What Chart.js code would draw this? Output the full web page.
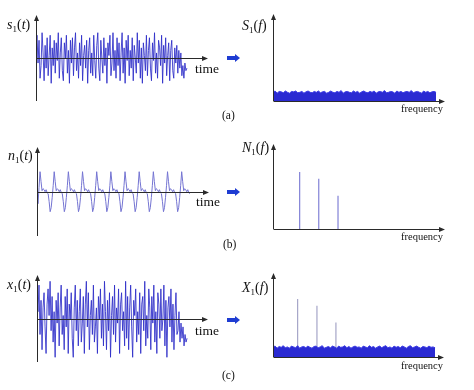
<!DOCTYPE html>
<html>
<head>
<meta charset="utf-8">
<script src="https://cdn.jsdelivr.net/npm/chart.js@4"></script>
<style>
body { margin: 0; background: #fff; }
#fig { position: relative; width: 474px; height: 390px; overflow: hidden; font-family: "Liberation Serif", "Times New Roman", serif; color: #111; }
#fig canvas { position: absolute; }
.lbl { position: absolute; white-space: nowrap; line-height: 1; }
.sym { font-size: 14px; }
.sym sub { font-size: 9px; font-style: normal; vertical-align: baseline; position: relative; top: 3px; }
.time { font-size: 13.5px; }
.freq { font-size: 10.5px; }
.tag { font-size: 11.5px; }
.arrow { position: absolute; left: 227px; width: 9px; height: 4px; background: #1e3cd2; }
.arrow::after { content: ""; position: absolute; left: 8px; top: -2px; border-left: 5px solid #1e3cd2; border-top: 4px solid transparent; border-bottom: 4px solid transparent; }
</style>
</head>
<body>
<div id="fig">
  <canvas id="sT"></canvas><canvas id="sF"></canvas>
  <canvas id="nT"></canvas><canvas id="nF"></canvas>
  <canvas id="xT"></canvas><canvas id="xF"></canvas>

  <div class="lbl sym" style="left:7px;top:18px"><i>s</i><sub>1</sub>(<i>t</i>)</div>
  <div class="lbl time" style="left:195px;top:62px">time</div>
  <div class="lbl tag" style="left:222px;top:110px">(a)</div>
  <div class="lbl sym" style="left:242px;top:19px"><i>S</i><sub>1</sub>(<i>f</i>)</div>
  <div class="lbl freq" style="left:401px;top:104px">frequency</div>

  <div class="lbl sym" style="left:8px;top:149px"><i>n</i><sub>1</sub>(<i>t</i>)</div>
  <div class="lbl time" style="left:196px;top:195px">time</div>
  <div class="lbl tag" style="left:223px;top:239px">(b)</div>
  <div class="lbl sym" style="left:242px;top:141px"><i>N</i><sub>1</sub>(<i>f</i>)</div>
  <div class="lbl freq" style="left:401px;top:232px">frequency</div>

  <div class="lbl sym" style="left:7px;top:278px"><i>x</i><sub>1</sub>(<i>t</i>)</div>
  <div class="lbl time" style="left:195px;top:324px">time</div>
  <div class="lbl tag" style="left:222px;top:370px">(c)</div>
  <div class="lbl sym" style="left:242px;top:281px"><i>X</i><sub>1</sub>(<i>f</i>)</div>
  <div class="lbl freq" style="left:401px;top:361px">frequency</div>

  <div class="arrow" style="top:56px"></div>
  <div class="arrow" style="top:190px"></div>
  <div class="arrow" style="top:318px"></div>
</div>
<script>
// time-domain samples (one per time step)
const s1 = [
  3, 9, -2, 7, -8, -3, 10, 2, -9, 5,
  -4, 8, -7, 1, 9, -10, 4, -3, 7, -6,
  6, -1, 10, -8, 2, 8, -5, -9, 6, 0,
  9, -6, 3, -10, 7, -2, 8, -7, 4, 10,
  -5, 2, -8, 6, -3, 9, -9, 1, 5, -4,
  7, -10, 3, 8, -6, 2, -7, 9, -1, -8,
  5, 10, -4, -9, 7, 0, -6, 8, -3, 4,
  -10, 6, 1, 9, -7, -2, 10, -5, 3, -8,
  8, -3, 6, -9, 2, 10, -6, 4, -10, 7,
  -1, 9, -7, 3, -4, 8, -9, 5, 0, -6,
  10, -2, 7, -8, 4, -10, 6, 1, -5, 9,
  -7, 3, 8, -4, -9, 6, -1, 10, -6, 2,
  -8, 7, 4, -3, 9, -10, 5, -2, 8, -7,
  1, 6, -9, 3, 7, -5, -8, 4, -2, 5,
  -6, 3, -4, 2, -7, -3, -8, -2, -5, -4
];

const n1 = [
  0, -6, 2,
  10, 5, 0.5, 1.5, 1, 0, 1, -0.5, -1, -5, -10, -8, -3, 3,
  10, 5, 0.5, 1.5, 1, 0, 1, -0.5, -1, -5, -10, -8, -3, 3,
  10, 5, 0.5, 1.5, 1, 0, 1, -0.5, -1, -5, -10, -8, -3, 3,
  10, 5, 0.5, 1.5, 1, 0, 1, -0.5, -1, -5, -10, -8, -3, 3,
  10, 5, 0.5, 1.5, 1, 0, 1, -0.5, -1, -5, -10, -8, -3, 3,
  10, 5, 0.5, 1.5, 1, 0, 1, -0.5, -1, -5, -10, -8, -3, 3,
  10, 5, 0.5, 1.5, 1, 0, 1, -0.5, -1, -5, -10, -8, -3, 3,
  10, 5, 0.5, 1.5, 1, 0, 1, -0.5, -1, -5, -10, -8, -3, 3,
  10, 5, 0.5, 1.5, 1, 0, 1, -0.5, -1, -5, -10, -8, -3, 3,
  10, 5, 0.5, 1.5, 1, 0, 1, -0.5, -1, -5, -10, -8, -3, 3,
  10, 5, 0.5, 1.5, 1, 0, 1, -0.5, -1
];

const x1 = [
  6, 2, 9, -4, 5, -8, 3, 7, -2, -9,
  4, 8, 1, 10, -3, 6, -6, 2, -10, 5,
  -1, 7, -7, 3, 9, -4, 1, -8, 6, -2,
  8, -9, 4, 0, 7, -5, -10, 3, 9, -3,
  5, -7, 2, 8, -6, -1, 6, -9, 4, 10,
  -2, 7, -8, 1, 5, -4, 9, -6, -2, 3,
  -9, 6, 0, 8, -5, 4, -7, 10, 2, -8,
  5, -3, 7, -10, 1, 6, -4, 9, -6, 3,
  -1, 8, -9, 4, 7, -3, 2, -7, 10, -5,
  6, -8, 3, 9, -2, -10, 5, 1, 8, -6,
  2, -4, 7, -9, 4, 6, -3, 10, -7, 1,
  -5, 8, 3, -8, 6, -1, 9, -6, 2, -9,
  7, 4, -5, 8, -3, 0, 9, -7, 5, -10,
  3, 6, -2, 8, -6, 4, -8, 1, 7, -4,
  -3, 2, -6, -1, -5, -2, -7, -4, -6, -5
];

// spectra: broadband floor + harmonic lines
const bandEnd = 94.8;
const specS = [
  10, 11.5, 9, 11, 10.5, 9.5, 11.5, 10, 9, 11,
  10.5, 11.5, 9.5, 10, 11, 9, 10.5, 11.5, 10, 9.5,
  11, 10, 11.5, 9.5, 10.5, 11, 9, 10, 11.5, 10,
  9.5, 11, 10, 12, 9, 10.5, 11, 10, 9.5, 11.5,
  10, 11, 9, 10.5, 11.5, 10, 9.5, 11, 10, 11.5,
  9, 10.5, 11, 10, 12, 9.5, 10, 11, 10.5, 9,
  11.5, 10, 11, 9.5, 10.5, 11, 10, 12, 9.5, 10.5,
  11, 10, 9, 11.5, 10, 11, 9.5, 10.5, 11, 10
];
const specX = [
  12, 13, 10.5, 12.5, 11.5, 13.5, 11, 12, 10.5, 13,
  12, 11, 13.5, 10.5, 12, 12.5, 11, 13, 11.5, 10.5,
  12.5, 13, 11, 12, 13.5, 10.5, 11.5, 12.5, 11, 13,
  12, 10.5, 13, 11.5, 12, 13.5, 11, 12.5, 10.5, 12,
  13, 11.5, 12, 10.5, 13, 12, 11, 13.5, 11.5, 12.5,
  10.5, 12, 13, 11, 12.5, 13.5, 11, 12, 10.5, 13,
  11.5, 12.5, 11, 13, 12, 10.5, 12.5, 13.5, 11, 12,
  13, 11.5, 10.5, 12.5, 12, 11, 13, 11.5, 12, 11
];
const nFreqs = [15.5, 26.6, 37.8];
const nMags = [67, 59, 39];
const xFreqs = [14.4, 25.7, 36.8];
const xMags = [69, 61, 41];

const PAD = 6;

// axis lines with arrow heads, y axis at left edge, x axis through y = 0
const axisArrows = {
  id: 'axisArrows',
  afterDatasetsDraw(chart) {
    const { ctx, chartArea: a, scales } = chart;
    const y0 = Math.round(scales.y.getPixelForValue(0)) + 0.5;
    const x0 = a.left + 0.5;
    ctx.save();
    ctx.strokeStyle = '#2a2a2a';
    ctx.fillStyle = '#2a2a2a';
    ctx.lineWidth = 1;
    ctx.beginPath();
    ctx.moveTo(x0, y0); ctx.lineTo(a.right - 4, y0);
    ctx.moveTo(x0, a.bottom); ctx.lineTo(x0, a.top + 4);
    ctx.stroke();
    ctx.beginPath();
    ctx.moveTo(a.right, y0); ctx.lineTo(a.right - 6, y0 - 2.5); ctx.lineTo(a.right - 6, y0 + 2.5); ctx.closePath();
    ctx.moveTo(x0, a.top); ctx.lineTo(x0 - 2.5, a.top + 6); ctx.lineTo(x0 + 2.5, a.top + 6); ctx.closePath();
    ctx.fill();
    ctx.restore();
  }
};

function place(id, L, T, R, B) {
  const c = document.getElementById(id);
  c.width = R - L + 2 * PAD;
  c.height = B - T + 2 * PAD;
  c.style.left = (L - PAD) + 'px';
  c.style.top = (T - PAD) + 'px';
  return c;
}

function opts(xMax, yMin, yMax) {
  return {
    responsive: false,
    animation: false,
    devicePixelRatio: 1,
    events: [],
    layout: { padding: PAD },
    plugins: { legend: { display: false }, tooltip: { enabled: false } },
    scales: {
      x: { type: 'linear', min: 0, max: xMax, display: false },
      y: { min: yMin, max: yMax, display: false }
    },
    elements: { point: { radius: 0 }, line: { tension: 0 } }
  };
}

function timeChart(id, box, vals, color, width, xMax, yMin, yMax) {
  const c = place(id, ...box);
  new Chart(c, {
    type: 'line',
    data: { datasets: [{
      data: vals.map((v, i) => ({ x: i, y: v })),
      borderColor: color, borderWidth: width
    }] },
    options: opts(xMax, yMin, yMax),
    plugins: [axisArrows]
  });
}

function specChart(id, box, floor, freqs, mags, lineColor, xMax) {
  const c = place(id, ...box);
  const datasets = [];
  if (floor) {
    datasets.push({
      data: floor.map((v, i) => ({ x: i * bandEnd / (floor.length - 1), y: v })),
      borderColor: '#3a3ae4', borderWidth: 1,
      backgroundColor: '#2a2ad2', fill: 'origin'
    });
  }
  if (freqs) {
    const pts = [];
    freqs.forEach((f, i) => { pts.push({ x: f, y: 0 }, { x: f, y: mags[i] }, { x: f, y: null }); });
    datasets.push({ data: pts, borderColor: lineColor, borderWidth: 1.2, spanGaps: false });
  }
  new Chart(c, {
    type: 'line',
    data: { datasets },
    options: opts(xMax, 0, 100),
    plugins: [axisArrows]
  });
}

timeChart('sT', [36, 15, 208, 101], s1, 'rgba(45,45,200,0.85)', 1, 169.8, -17, 17);
timeChart('nT', [37, 147, 209, 236], n1, '#7474d2', 1, 170, -22.15, 22.35);
timeChart('xT', [37, 275, 208, 362], x1, 'rgba(45,45,200,0.85)', 1, 169.8, -11.24, 11.66);

specChart('sF', [273, 14, 445, 101], specS, null, null, null, 100);
specChart('nF', [273, 144, 445, 229], null, nFreqs, nMags, '#8282d6', 100);
specChart('xF', [273, 273, 444, 357], specX, xFreqs, xMags, '#a6a6c8', 100);
</script>
</body>
</html>
